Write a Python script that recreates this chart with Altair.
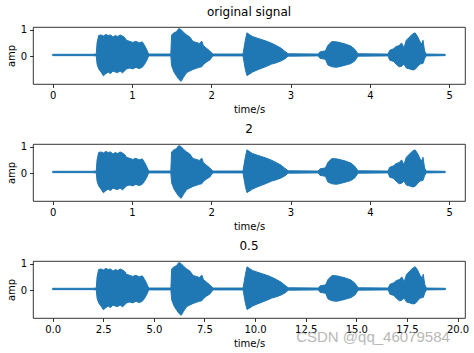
import altair as alt
import pandas as pd

# envelope of the waveform (time in s of the original signal, upper / lower amplitude)
t = [0.00, 0.50, 0.55, 0.56, 0.58, 0.61, 0.64, 0.67, 0.70, 0.73, 0.76, 0.79, 0.82, 0.85,
     0.88, 0.91, 0.93, 0.97, 1.01, 1.05, 1.09, 1.13, 1.16, 1.19, 1.21, 1.45, 1.49, 1.50,
     1.53, 1.56, 1.59, 1.62, 1.65, 1.69, 1.73, 1.77, 1.81, 1.85, 1.88, 1.90, 1.94, 1.98,
     2.02, 2.40, 2.43,
     2.45, 2.48, 2.52, 2.58, 2.64, 2.70, 2.76, 2.82, 2.88, 2.93, 2.97, 3.35, 3.37, 3.44,
     3.47, 3.52, 3.58, 3.64, 3.70, 3.76, 3.81, 3.85, 4.23, 4.25, 4.30, 4.33, 4.37, 4.40,
     4.43, 4.46, 4.50, 4.54, 4.57, 4.60, 4.63, 4.66, 4.67, 4.69, 4.71, 4.95]
upper = [0.07, 0.07, 0.08, 0.50, 0.78, 0.80, 0.76, 0.82, 0.78, 0.80, 0.72, 0.78, 0.74, 0.80,
         0.76, 0.70, 0.60, 0.56, 0.52, 0.56, 0.50, 0.54, 0.40, 0.22, 0.08, 0.08, 0.08, 0.80,
         0.88, 0.92, 1.04, 1.00, 0.90, 0.80, 0.72, 0.55, 0.52, 0.48, 0.57, 0.40, 0.30, 0.20,
         0.08, 0.08, 0.60,
         0.88, 0.82, 0.74, 0.68, 0.62, 0.56, 0.49, 0.40, 0.30, 0.18, 0.09, 0.08, 0.16, 0.20,
         0.40, 0.55, 0.54, 0.50, 0.45, 0.38, 0.26, 0.09, 0.08, 0.22, 0.28, 0.36, 0.40, 0.50,
         0.32, 0.60, 0.72, 0.84, 0.88, 0.75, 0.56, 0.45, 0.60, 0.20, 0.08, 0.07]
lower = [0.02, 0.02, 0.01, -0.30, -0.48, -0.60, -0.74, -0.66, -0.60, -0.66, -0.56, -0.60, -0.62, -0.56,
         -0.63, -0.55, -0.48, -0.45, -0.48, -0.42, -0.47, -0.42, -0.30, -0.14, 0.01, 0.01, 0.01, -0.36,
         -0.60, -0.74, -0.87, -0.95, -0.80, -0.62, -0.56, -0.50, -0.46, -0.42, -0.40, -0.32, -0.22, -0.15,
         0.01, 0.01, -0.50,
         -0.73, -0.68, -0.60, -0.52, -0.45, -0.38, -0.30, -0.25, -0.18, -0.10, 0.00, 0.01, -0.08, -0.12,
         -0.33, -0.40, -0.42, -0.38, -0.33, -0.28, -0.18, 0.00, 0.01, -0.15, -0.20, -0.30, -0.40, -0.38,
         -0.30, -0.45, -0.48, -0.52, -0.50, -0.40, -0.30, -0.28, -0.28, -0.10, 0.01, 0.02]

titles = ["original signal", "2", "0.5"]
time_factor = [1.0, 1.0, 3.92]
x_ticks = [[0, 1, 2, 3, 4, 5], [0, 1, 2, 3, 4, 5],
           [0.0, 2.5, 5.0, 7.5, 10.0, 12.5, 15.0, 17.5, 20.0]]
x_formats = ["d", "d", ".1f"]
x_domains = [[-0.248, 5.2], [-0.248, 5.2], [-0.97, 20.37]]
y_ticks = [0, 1]
y_domain = [-1.05, 1.10]
watermark = "CSDN @qq_46079584"

FONT = "DejaVu Sans"


def panel(i):
    df = pd.DataFrame({
        "time": [v * time_factor[i] for v in t],
        "upper": upper,
        "lower": lower,
    })
    area = alt.Chart(df).mark_area(color="#1f77b4", interpolate="linear", clip=True,
                                   stroke="#1f77b4", strokeWidth=1).encode(
        x=alt.X("time:Q",
                scale=alt.Scale(domain=x_domains[i], nice=False, zero=False),
                axis=alt.Axis(values=x_ticks[i], format=x_formats[i], title="time/s")),
        y=alt.Y("upper:Q",
                scale=alt.Scale(domain=y_domain, nice=False, zero=False),
                axis=alt.Axis(values=y_ticks, title="amp")),
        y2="lower:Q",
    )
    ch = area
    if i == 2:
        wm = alt.Chart(pd.DataFrame({"label": [watermark]})).mark_text(
            font="Liberation Sans", fontSize=15, color="#9a9a9a", opacity=0.7,
            align="center", baseline="middle"
        ).encode(text="label:N", x=alt.value(340), y=alt.value(76))
        ch = alt.layer(area, wm)
    return ch.properties(
        width=432, height=57,
        title=alt.TitleParams(titles[i], font=FONT, fontSize=12, fontWeight="normal",
                              color="black", offset=6, anchor="middle"),
    )


chart = alt.vconcat(panel(0), panel(1), panel(2), spacing=60, bounds="flush").properties(
    padding={"left": 5, "top": 5, "right": 0, "bottom": 0},
    background="white",
).configure_view(
    stroke="black", strokeWidth=0.8
).configure_axis(
    grid=False, domain=False, tickColor="black", tickSize=3.5, tickWidth=0.8,
    labelFont=FONT, labelFontSize=10, labelColor="black", labelPadding=3,
    titleFont=FONT, titleFontSize=10, titleColor="black", titleFontWeight="normal",
)

chart.save("out.html", embed_options={"renderer": "svg", "actions": False})
